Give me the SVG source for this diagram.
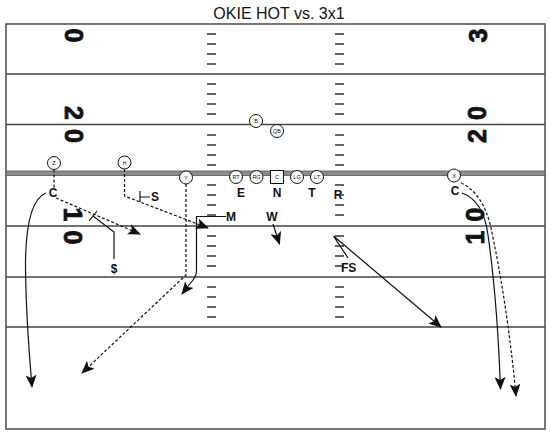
<svg xmlns="http://www.w3.org/2000/svg" width="550" height="434" viewBox="0 0 550 434">
<style>
.lbl{font-family:"Liberation Sans",Arial,sans-serif;font-weight:bold;font-size:12px;fill:#111}
.pl{font-family:"Liberation Sans",Arial,sans-serif;font-size:5.5px;fill:#111;text-anchor:middle;dominant-baseline:central}
.num{font-family:"Liberation Sans",Arial,sans-serif;font-weight:bold;font-size:25px;fill:#111;stroke:#111;stroke-width:0.8;text-anchor:middle;dominant-baseline:central}
.yl{stroke:#444;stroke-width:1.6}
.hash{stroke:#333;stroke-width:1.6}
.p circle,.p rect{fill:#fff;stroke:#111;stroke-width:1}
.r{fill:none;stroke:#111;stroke-width:1.2}
.d{fill:none;stroke:#111;stroke-width:1.2;stroke-dasharray:3 2}
</style>
<defs>
<marker id="ah" viewBox="0 0 13 11" refX="12" refY="5.5" markerWidth="13" markerHeight="11" markerUnits="userSpaceOnUse" orient="auto">
<path d="M0,0 L13,5.5 L0,11 L3,5.5 Z" fill="#111"/>
</marker>
</defs>
<rect width="550" height="434" fill="#fff"/>
<text x="279" y="19" font-family="Liberation Sans, Arial, sans-serif" font-size="16" text-anchor="middle" fill="#111">OKIE HOT vs. 3x1</text>
<g id="field">
<rect x="6" y="24" width="539" height="405" fill="none" stroke="#555" stroke-width="1.6"/>
<line class="yl" x1="6" y1="74" x2="545" y2="74"/>
<line class="yl" x1="6" y1="124.5" x2="545" y2="124.5"/>
<line class="yl" x1="6" y1="226" x2="545" y2="226"/>
<line class="yl" x1="6" y1="277" x2="545" y2="277"/>
<line class="yl" x1="6" y1="327" x2="545" y2="327"/>
<rect x="6" y="171" width="539" height="4.5" fill="#8c8c8c" stroke="#555" stroke-width="0.8"/>
<g class="hash">
<path d="M207,34h9M207,44h9M207,54h9M207,64h9M207,84h9M207,94h9M207,104h9M207,114h9M207,135h9M207,145h9M207,155h9M207,165h9M207,185h9M207,195h9M207,205h9M207,215h9M207,236h9M207,246h9M207,256h9M207,266h9M207,287h9M207,297h9M207,307h9M207,317h9"/>
<path d="M335,34h9M335,44h9M335,54h9M335,64h9M335,84h9M335,94h9M335,104h9M335,114h9M335,135h9M335,145h9M335,155h9M335,165h9M335,185h9M335,195h9M335,205h9M335,215h9M335,236h9M335,246h9M335,256h9M335,266h9M335,287h9M335,297h9M335,307h9M335,317h9"/>
</g>
<text class="num" x="74" y="35.5" transform="rotate(90 74 35.5)">0</text>
<text class="num" x="74" y="113" transform="rotate(90 74 113)">2</text>
<text class="num" x="74" y="136" transform="rotate(90 74 136)">0</text>
<text class="num" x="73" y="214.5" transform="rotate(90 73 214.5)">1</text>
<text class="num" x="73" y="237.5" transform="rotate(90 73 237.5)">0</text>
<text class="num" x="478" y="35.5" transform="rotate(-90 478 35.5)">3</text>
<text class="num" x="477" y="113" transform="rotate(-90 477 113)">0</text>
<text class="num" x="477" y="136" transform="rotate(-90 477 136)">2</text>
<text class="num" x="475" y="214.5" transform="rotate(-90 475 214.5)">0</text>
<text class="num" x="475" y="237.5" transform="rotate(-90 475 237.5)">1</text>
</g>
<g id="connectors">
<path class="d" d="M54,169.5 V188"/>
<path class="d" d="M56,198 L140,234" marker-end="url(#ah)"/>
<path class="r" d="M46,193 C33,198 26,222 25.5,262 C25.5,300 28,340 32,387" marker-end="url(#ah)"/>
<path class="r" d="M114,259 V232 L93,216"/>
<path class="r" d="M89,221 L97,211"/>
<path class="d" d="M124.5,169 V196 L208,228" marker-end="url(#ah)"/>
<path class="r" d="M150,197 H140 M140,191 V202"/>
<path class="d" d="M186,184 V275 L82,373" marker-end="url(#ah)"/>
<path class="r" d="M226,216.5 H196.5 V271 Q196.5,275 193,280 L182,294" marker-end="url(#ah)"/>
<path class="r" d="M273,224 L279.5,244" marker-end="url(#ah)"/>
<path class="r" d="M348,258 L333.5,236 L441,327" marker-end="url(#ah)"/>
<path class="d" d="M461,183 C475,189 486,205 491,228 C500,270 510,330 516,396" marker-end="url(#ah)"/>
<path class="r" d="M462,193 C476,198 485,212 488,235 C493,270 498,320 500.5,389" marker-end="url(#ah)"/>
</g>
<g id="Z" class="p"><circle cx="54" cy="163" r="6.5"/><text class="pl" x="54" y="163">Z</text></g>
<g id="H" class="p"><circle cx="124.5" cy="162.5" r="6.5"/><text class="pl" x="124.5" y="162.5">H</text></g>
<g id="Y" class="p"><circle cx="186" cy="177.5" r="6.5"/><text class="pl" x="186" y="177.5">Y</text></g>
<g id="RT" class="p"><circle cx="236" cy="177" r="6.5"/><text class="pl" x="236" y="177">RT</text></g>
<g id="RG" class="p"><circle cx="256.5" cy="177" r="6.5"/><text class="pl" x="256.5" y="177">RG</text></g>
<g id="C" class="p"><rect x="270.5" y="170.5" width="13" height="13"/><text class="pl" x="277" y="177">C</text></g>
<g id="LG" class="p"><circle cx="297" cy="177" r="6.5"/><text class="pl" x="297" y="177">LG</text></g>
<g id="LT" class="p"><circle cx="317" cy="177" r="6.5"/><text class="pl" x="317" y="177">LT</text></g>
<g id="X" class="p"><circle cx="454" cy="175.5" r="6.5"/><text class="pl" x="454" y="175.5">X</text></g>
<g id="B" class="p"><circle cx="256" cy="121" r="6.5"/><text class="pl" x="256" y="121">B</text></g>
<g id="QB" class="p"><circle cx="277" cy="131" r="6.5"/><text class="pl" x="277" y="131">QB</text></g>
<g id="defense">
<text class="lbl" x="241" y="196.5" text-anchor="middle">E</text>
<text class="lbl" x="277" y="196.5" text-anchor="middle">N</text>
<text class="lbl" x="312" y="196.5" text-anchor="middle">T</text>
<text class="lbl" x="338" y="199" text-anchor="middle">R</text>
<text class="lbl" x="226" y="221">M</text>
<text class="lbl" x="272" y="221" text-anchor="middle">W</text>
<text class="lbl" x="341" y="272">FS</text>
<text class="lbl" x="151" y="201">S</text>
<text class="lbl" x="114" y="272.5" text-anchor="middle" font-size="11">$</text>
<text class="lbl" x="53" y="197" text-anchor="middle" font-size="10">C</text>
<text class="lbl" x="455" y="195" text-anchor="middle" font-size="10">C</text>
</g>
</svg>
